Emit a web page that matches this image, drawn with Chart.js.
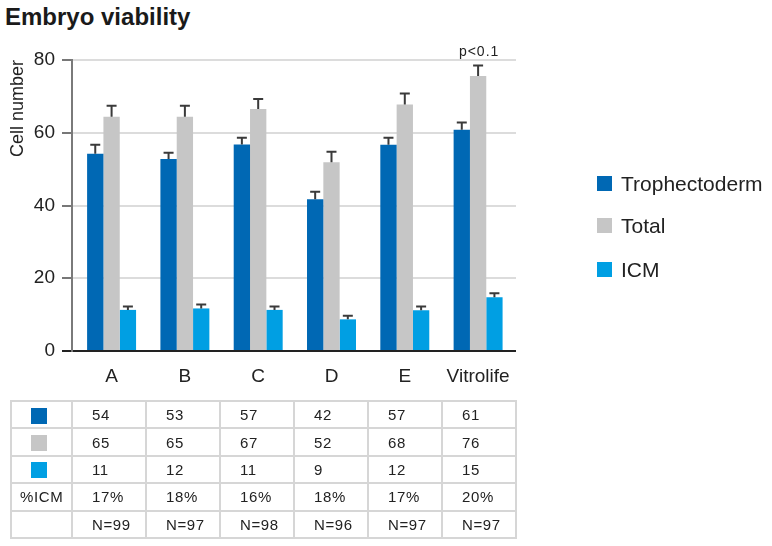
<!DOCTYPE html>
<html>
<head>
<meta charset="utf-8">
<script src="https://cdn.jsdelivr.net/npm/chart.js@4.4.1/dist/chart.umd.min.js"></script>
<style>
  html, body { margin:0; padding:0; background:#fff; }
  body { width:772px; height:546px; position:relative; overflow:hidden; font-family:"Liberation Sans", Arial, Helvetica, sans-serif; color:#222; }
  #chart { position:absolute; left:0; top:0; }
  #title { position:absolute; left:5px; top:5px; font-size:24px; line-height:24px; font-weight:bold; color:#1a1a1a; white-space:nowrap; }
  #legend { position:absolute; left:597px; top:0; }
  .lg { position:absolute; left:0; white-space:nowrap; font-size:21px; line-height:21px; color:#222; }
  .lg span.sw { position:absolute; left:0; width:15px; height:15px; }
  .lg span.tx { position:absolute; left:24px; white-space:nowrap; }
  #tbl { position:absolute; left:10px; top:400px; border-collapse:collapse; table-layout:fixed; font-size:15px; letter-spacing:0.6px; color:#222; }
  #tbl td { border:2px solid #d6d6d6; height:25.4px; padding:0 0 0 19px; white-space:nowrap; vertical-align:middle; }
  #tbl td.first { padding-left:8px; }
  #tbl .sq { display:inline-block; width:16px; height:16px; margin-left:11px; vertical-align:middle; }
</style>
</head>
<body>
<div id="title">Embryo viability</div>
<canvas id="chart" width="772" height="546"></canvas>
<div id="legend"></div>
<table id="tbl"></table>
<script>
// ---- data ----
const categories = ["A", "B", "C", "D", "E", "Vitrolife"];
const seriesNames = ["Trophectoderm", "Total", "ICM"];
const seriesColors = ["#0068b4", "#c6c6c6", "#009fe3"];

// bar heights (means)
const trophectoderm = [54.2, 52.8, 56.8, 41.7, 56.7, 60.8];
const total = [64.4, 64.4, 66.5, 51.9, 67.8, 75.6];
const icm = [11.3, 11.7, 11.3, 8.7, 11.2, 14.8];

// upper error bar lengths
const trophectodermErr = [2.5, 1.7, 1.8, 2.1, 1.9, 2.0];
const totalErr = [3.0, 3.0, 2.8, 2.9, 3.0, 2.9];
const icmErr = [0.9, 1.1, 0.9, 1.0, 1.0, 1.1];

// y-axis ticks
const yTicks = [0, 20, 40, 60, 80];
const yTitle = "Cell number";
const annotationText = "p<0.1";
const annotationCategory = "Vitrolife";

// table below the chart
const tableTrophectoderm = ["54", "53", "57", "42", "57", "61"];
const tableTotal = ["65", "65", "67", "52", "68", "76"];
const tableIcm = ["11", "12", "11", "9", "12", "15"];
const tablePctIcm = ["17%", "18%", "16%", "18%", "17%", "20%"];
const tableN = ["N=99", "N=97", "N=98", "N=96", "N=97", "N=97"];

// ---- legend (HTML) ----
const legendTops = [176, 218, 262];
const legendEl = document.getElementById('legend');
seriesNames.forEach((n, i) => {
  const d = document.createElement('div');
  d.className = 'lg';
  d.style.top = legendTops[i] + 'px';
  d.innerHTML = '<span class="sw" style="background:' + seriesColors[i] + '"></span><span class="tx" style="top:-3px">' + n + '</span>';
  legendEl.appendChild(d);
});

// ---- table (HTML) ----
const tbl = document.getElementById('tbl');
const colgroup = document.createElement('colgroup');
[61].concat(categories.map(() => 74)).forEach(w => {
  const c = document.createElement('col'); c.style.width = w + 'px'; colgroup.appendChild(c);
});
tbl.appendChild(colgroup);
const rows = [
  { head: '<span class="sq" style="background:' + seriesColors[0] + '"></span>', vals: tableTrophectoderm },
  { head: '<span class="sq" style="background:' + seriesColors[1] + '"></span>', vals: tableTotal },
  { head: '<span class="sq" style="background:' + seriesColors[2] + '"></span>', vals: tableIcm },
  { head: '%ICM', vals: tablePctIcm },
  { head: '', vals: tableN }
];
rows.forEach(r => {
  const tr = document.createElement('tr');
  const th = document.createElement('td');
  th.className = 'first';
  th.innerHTML = r.head;
  tr.appendChild(th);
  r.vals.forEach(v => { const td = document.createElement('td'); td.textContent = v; tr.appendChild(td); });
  tbl.appendChild(tr);
});

// ---- chart ----
const values = [trophectoderm, total, icm];
const errors = [trophectodermErr, totalErr, icmErr];

const errorBarPlugin = {
  id: 'errorBars',
  afterDatasetsDraw(chart) {
    const ctx = chart.ctx;
    const ys = chart.scales.y;
    ctx.save();
    ctx.strokeStyle = '#3a3a3a';
    ctx.lineWidth = 2;
    chart.data.datasets.forEach((ds, i) => {
      const meta = chart.getDatasetMeta(i);
      meta.data.forEach((bar, j) => {
        const yTop = bar.y;
        const yErr = ys.getPixelForValue(values[i][j] + errors[i][j]);
        ctx.beginPath();
        ctx.moveTo(bar.x, yTop);
        ctx.lineTo(bar.x, yErr);
        ctx.moveTo(bar.x - 5, yErr);
        ctx.lineTo(bar.x + 5, yErr);
        ctx.stroke();
      });
    });
    // annotation above the Vitrolife total bar
    const idx = categories.indexOf(annotationCategory);
    const bar = chart.getDatasetMeta(1).data[idx];
    ctx.fillStyle = '#222';
    ctx.font = '14px "Liberation Sans", Arial, sans-serif';
    if ('letterSpacing' in ctx) ctx.letterSpacing = '1px';
    ctx.textAlign = 'center';
    ctx.textBaseline = 'alphabetic';
    ctx.fillText(annotationText, bar.x + 1, ys.getPixelForValue(yTicks[yTicks.length - 1]) - 4);
    ctx.restore();
  }
};

const fontFam = '"Liberation Sans", Arial, sans-serif';

new Chart(document.getElementById('chart'), {
  type: 'bar',
  data: {
    datasets: seriesNames.map((n, i) => ({
      label: n,
      data: values[i].map((v, j) => ({ x: j, y: v })),
      backgroundColor: seriesColors[i],
      borderWidth: 0,
      categoryPercentage: 0.668,
      barPercentage: 1.0
    }))
  },
  options: {
    responsive: false,
    animation: false,
    devicePixelRatio: 1,
    layout: { padding: { left: 0, top: 60, right: 256, bottom: 155 } },
    plugins: { legend: { display: false }, tooltip: { enabled: false }, title: { display: false } },
    scales: {
      x: {
        type: 'linear',
        offset: false,
        min: -0.54,
        max: 5.517,
        afterBuildTicks(scale) { scale.ticks = categories.map((c, j) => ({ value: j })); },
        grid: { display: false, drawTicks: false },
        border: { display: false },
        ticks: {
          color: '#222', font: { family: fontFam, size: 19 }, padding: 14, maxRotation: 0, autoSkip: false,
          callback: v => categories[v] !== undefined ? categories[v] : ''
        },
        afterFit(scale) { scale.height = 40; }
      },
      y: {
        min: yTicks[0],
        max: yTicks[yTicks.length - 1],
        afterBuildTicks(scale) { scale.ticks = yTicks.map(v => ({ value: v })); },
        grid: {
          color: c => c.tick && c.tick.value === 0 ? '#222' : '#dcdcdc',
          lineWidth: 2,
          tickColor: c => c.tick && c.tick.value === 0 ? '#222' : '#777',
          tickLength: 10,
          drawTicks: true
        },
        border: { color: '#7a7a7a', width: 2 },
        ticks: { color: '#222', font: { family: fontFam, size: 19 }, padding: 7 },
        title: {
          display: true, text: yTitle, align: 'end', color: '#222',
          font: { family: fontFam, size: 18 },
          padding: { top: 7, bottom: 0 }
        },
        afterFit(scale) { scale.width = 72; }
      }
    }
  },
  plugins: [errorBarPlugin]
});
</script>
</body>
</html>
